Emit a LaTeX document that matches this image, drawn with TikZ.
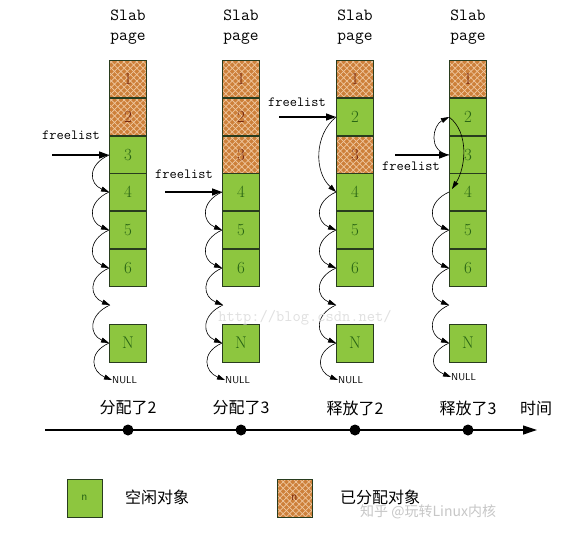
\documentclass[tikz,border=0pt]{standalone}
\usepackage{fontspec}
\newfontfamily\cjk{Noto Sans CJK SC}
\usetikzlibrary{arrows.meta,patterns.meta}
\definecolor{freegreen}{RGB}{141,198,63}
\definecolor{freeborder}{RGB}{40,60,30}
\definecolor{allocorange}{RGB}{205,128,58}
\definecolor{allochatch}{RGB}{240,200,160}
\definecolor{alloctext}{RGB}{120,40,15}
\definecolor{freetext}{RGB}{40,100,20}
\tikzset{
  cell/.style={draw=freeborder, line width=0.9pt, minimum width=37pt, minimum height=37.8pt, inner sep=0pt, font=\fontsize{17}{17}\selectfont},
  free/.style={cell, fill=freegreen, text=freetext},
  alloc/.style={cell, fill=allocorange, text=alloctext,
    postaction={pattern={Lines[angle=45,distance=4.5pt,line width=0.7pt]}, pattern color=allochatch},
    postaction={pattern={Lines[angle=-45,distance=4.5pt,line width=0.7pt]}, pattern color=allochatch},
    postaction={draw=freeborder, line width=0.9pt}},
  chain/.style={draw=black, line width=0.6pt, -{Triangle[length=8pt,width=5pt]}},
  flarrow/.style={draw=black, line width=1.2pt, -{Triangle[length=10pt,width=7pt]}},
  fltext/.style={font=\ttfamily\fontsize{14}{14}\selectfont, inner sep=0pt},
  slabtext/.style={font=\ttfamily\fontsize{17}{20}\selectfont, align=center, inner sep=0pt},
  nulltext/.style={font=\sffamily\fontsize{10}{10}\selectfont, inner sep=0pt, anchor=west},
  dot/.style={circle, fill=black, minimum size=11pt, inner sep=0pt},
  tlabel/.style={font=\cjk\fontsize{16}{16}\selectfont, inner sep=0pt},
  watermark/.style={text=black!12, inner sep=0pt},
}
\begin{document}
\begin{tikzpicture}[x=1pt,y=-1pt]
\useasboundingbox (0,0) rectangle (563,536);
\fill[white] (0,0) rectangle (563,536);

% ---------- column 1 ----------
\node[slabtext] (s1) at (128,27) {Slab\\page};
\node[alloc] (a1) at (128,79) {1};
\node[alloc] (a2) at (128,117) {2};
\node[free] (a3) at (128,155) {3};
\node[free] (a4) at (128,192) {4};
\node[free] (a5) at (128,230) {5};
\node[free] (a6) at (128,268) {6};
\node[free, minimum height=38pt] (aN) at (128,343) {N};
\coordinate (agap) at (110,305);
\node[nulltext] (anull) at (112,380) {NULL};
\node[fltext] (afl) at (71,135) {freelist};
\coordinate (aflst) at (52,155);
\draw[flarrow] (aflst) -- (a3.west);
\draw[chain] (a3.west) .. controls +(-22,10) and +(-20,-8) .. (a4.west);
\draw[chain] (a4.west) .. controls +(-22,10) and +(-20,-8) .. (a5.west);
\draw[chain] (a5.west) .. controls +(-22,10) and +(-20,-8) .. (a6.west);
\draw[chain] (a6.west) .. controls +(-22,10) and +(-20,-8) .. (agap);
\draw[chain] (agap) .. controls +(-22,10) and +(-20,-8) .. (aN.west);
\draw[chain] (aN.west) .. controls +(-22,10) and +(-20,-8) .. (anull.west);

% ---------- column 2 ----------
\node[slabtext] (s2) at (241,27) {Slab\\page};
\node[alloc] (b1) at (241,79) {1};
\node[alloc] (b2) at (241,117) {2};
\node[alloc] (b3) at (241,155) {3};
\node[free] (b4) at (241,192) {4};
\node[free] (b5) at (241,230) {5};
\node[free] (b6) at (241,268) {6};
\node[free, minimum height=38pt] (bN) at (241,343) {N};
\coordinate (bgap) at (223,305);
\node[nulltext] (bnull) at (225,380) {NULL};
\node[fltext] (bfl) at (184,174) {freelist};
\coordinate (bflst) at (165,192);
\draw[flarrow] (bflst) -- (b4.west);
\draw[chain] (b4.west) .. controls +(-22,10) and +(-20,-8) .. (b5.west);
\draw[chain] (b5.west) .. controls +(-22,10) and +(-20,-8) .. (b6.west);
\draw[chain] (b6.west) .. controls +(-22,10) and +(-20,-8) .. (bgap);
\draw[chain] (bgap) .. controls +(-22,10) and +(-20,-8) .. (bN.west);
\draw[chain] (bN.west) .. controls +(-22,10) and +(-20,-8) .. (bnull.west);

% ---------- column 3 ----------
\node[slabtext] (s3) at (355,27) {Slab\\page};
\node[alloc] (c1) at (355,79) {1};
\node[free] (c2) at (355,117) {2};
\node[alloc] (c3) at (355,155) {3};
\node[free] (c4) at (355,192) {4};
\node[free] (c5) at (355,230) {5};
\node[free] (c6) at (355,268) {6};
\node[free, minimum height=38pt] (cN) at (355,343) {N};
\coordinate (cgap) at (336,305);
\node[nulltext] (cnull) at (338,380) {NULL};
\node[fltext] (cfl) at (297,102) {freelist};
\coordinate (cflst) at (279,117);
\draw[flarrow] (cflst) -- (c2.west);
\draw[chain] (c2.west) .. controls +(-22,18) and +(-22,-20) .. (c4.west);
\draw[chain] (c4.west) .. controls +(-22,10) and +(-20,-8) .. (c5.west);
\draw[chain] (c5.west) .. controls +(-22,10) and +(-20,-8) .. (c6.west);
\draw[chain] (c6.west) .. controls +(-22,10) and +(-20,-8) .. (cgap);
\draw[chain] (cgap) .. controls +(-22,10) and +(-20,-8) .. (cN.west);
\draw[chain] (cN.west) .. controls +(-22,10) and +(-20,-8) .. (cnull.west);

% ---------- column 4 ----------
\node[slabtext] (s4) at (468,27) {Slab\\page};
\node[alloc] (d1) at (468,79) {1};
\node[free] (d2) at (468,117) {2};
\node[free] (d3) at (468,155) {3};
\node[free] (d4) at (468,192) {4};
\node[free] (d5) at (468,230) {5};
\node[free] (d6) at (468,268) {6};
\node[free, minimum height=38pt] (dN) at (468,343) {N};
\coordinate (dgap) at (449,305);
\node[nulltext] (dnull) at (451,377) {NULL};
\node[fltext] (dfl) at (411,166) {freelist};
\coordinate (dflst) at (395,155);
\coordinate (d4in) at (452,189);
\draw[flarrow] (dflst) -- (d3.west);
\draw[chain] (d3.west) .. controls +(-22,-4) and +(-16,8) .. (d2.west);
\draw[chain] (d2.west) .. controls +(20,15) and +(14,-22) .. (d4in);
\draw[chain] (d4.west) .. controls +(-22,10) and +(-20,-8) .. (d5.west);
\draw[chain] (d5.west) .. controls +(-22,10) and +(-20,-8) .. (d6.west);
\draw[chain] (d6.west) .. controls +(-22,10) and +(-20,-8) .. (dgap);
\draw[chain] (dgap) .. controls +(-22,10) and +(-20,-8) .. (dN.west);
\draw[chain] (dN.west) .. controls +(-22,10) and +(-20,-8) .. (dnull.west);

% watermark
\node[watermark, font=\ttfamily\fontsize{16}{16}\selectfont] (wm1) at (305,318) {http://blog.csdn.net/};

% ---------- timeline ----------
\coordinate (tst) at (45,430);
\coordinate (ten) at (537,430);
\draw[line width=1.2pt, -{Triangle[length=14pt,width=9pt]}] (tst) -- (ten);
\node[dot] (t1) at (128,430) {};
\node[dot] (t2) at (241,430) {};
\node[dot] (t3) at (355,430) {};
\node[dot] (t4) at (468,430) {};
\node[tlabel] (l1) at (128,408) {分配了2};
\node[tlabel] (l2) at (241,408) {分配了3};
\node[tlabel] (l3) at (355,408) {释放了2};
\node[tlabel] (l4) at (468,408) {释放了3};
\node[tlabel] (l5) at (536,408) {时间};

% ---------- legend ----------
\node[free, minimum width=35pt, minimum height=38pt, font=\sffamily\fontsize{12}{12}\selectfont] (lg1) at (84.5,498) {n};
\node[tlabel, anchor=west] (lt1) at (125,497) {空闲对象};
\node[alloc, minimum width=35pt, minimum height=38pt, font=\sffamily\fontsize{12}{12}\selectfont] (lg2) at (294.5,498) {n};
\node[tlabel, anchor=west] (lt2) at (340,497) {已分配对象};
\node[watermark, text=black!22, font=\cjk\fontsize{14}{14}\selectfont, anchor=west] (wm2) at (360,512) {知乎 @玩转Linux内核};
\end{tikzpicture}
\end{document}
